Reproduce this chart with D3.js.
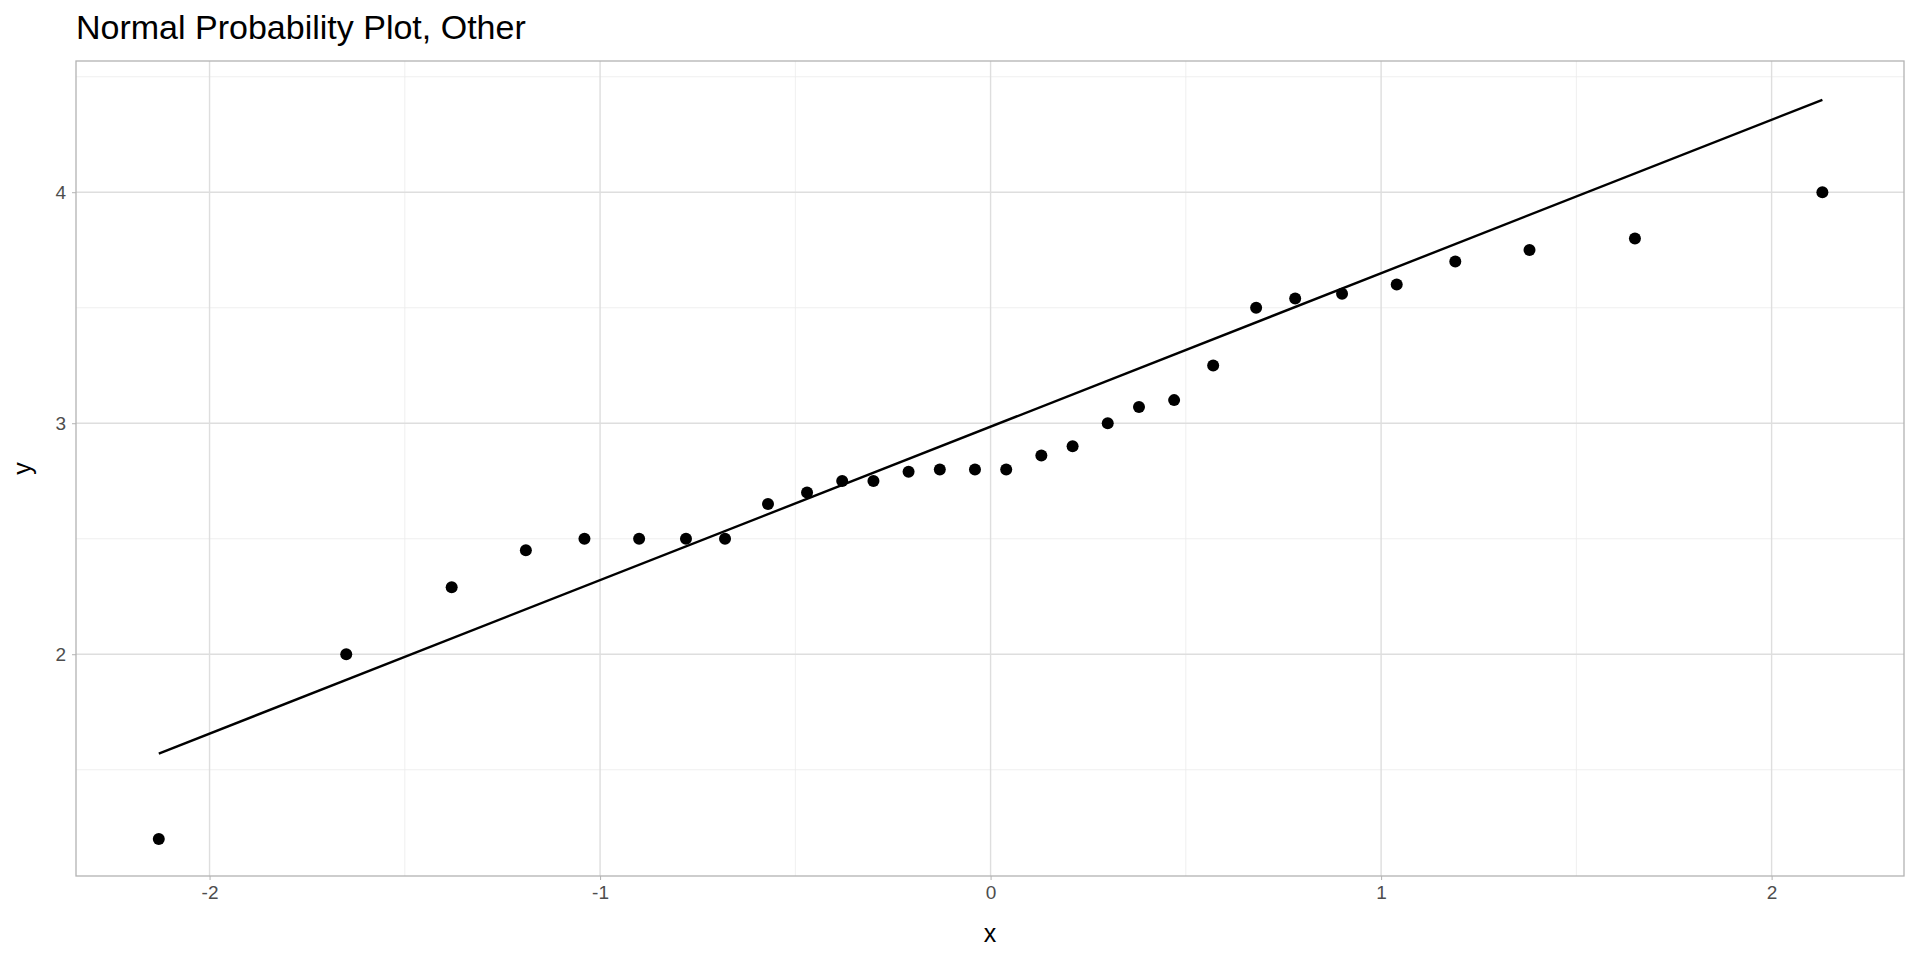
<!DOCTYPE html>
<html>
<head>
<meta charset="utf-8">
<script src="https://cdn.jsdelivr.net/npm/d3@7"></script>
<style>
  body { margin: 0; background: #fff; }
  text { font-family: "Liberation Sans", Arial, sans-serif; }
</style>
</head>
<body>
<svg id="chart" width="1920" height="960"></svg>
<script>
// theoretical quantiles and sample values
var qx = [-2.13, -1.65, -1.38, -1.19, -1.04, -0.90, -0.78, -0.68, -0.57, -0.47,
          -0.38, -0.30, -0.21, -0.13, -0.04, 0.04, 0.13, 0.21, 0.30, 0.38,
          0.47, 0.57, 0.68, 0.78, 0.90, 1.04, 1.19, 1.38, 1.65, 2.13];
var qy = [1.2, 2.0, 2.29, 2.45, 2.5, 2.5, 2.5, 2.5, 2.65, 2.7,
          2.75, 2.75, 2.79, 2.8, 2.8, 2.8, 2.86, 2.9, 3.0, 3.07,
          3.1, 3.25, 3.5, 3.54, 3.56, 3.6, 3.7, 3.75, 3.8, 4.0];
// reference line end points
var lineX = [-2.13, 2.13];
var lineY = [1.57, 4.40];
var xTicks = [-2, -1, 0, 1, 2];
var yTicks = [2, 3, 4];
var xMinor = [-1.5, -0.5, 0.5, 1.5];
var yMinor = [1.5, 2.5, 3.5, 4.5];

var svg = d3.select("#chart");
var m = { left: 76, right: 1904, top: 61, bottom: 876 };

var x = d3.scaleLinear().domain([-2.342, 2.339]).range([m.left, m.right]);
var y = d3.scaleLinear().domain([1.04, 4.568]).range([m.bottom, m.top]);

var grid = svg.append("g");
grid.selectAll(".xm").data(xMinor).enter().append("line")
  .attr("x1", d => x(d)).attr("x2", d => x(d)).attr("y1", m.top).attr("y2", m.bottom)
  .attr("stroke", "#ebebeb").attr("stroke-width", 0.8);
grid.selectAll(".ym").data(yMinor).enter().append("line")
  .attr("y1", d => y(d)).attr("y2", d => y(d)).attr("x1", m.left).attr("x2", m.right)
  .attr("stroke", "#ebebeb").attr("stroke-width", 0.8);
grid.selectAll(".xM").data(xTicks).enter().append("line")
  .attr("x1", d => x(d)).attr("x2", d => x(d)).attr("y1", m.top).attr("y2", m.bottom)
  .attr("stroke", "#dedede").attr("stroke-width", 1.4);
grid.selectAll(".yM").data(yTicks).enter().append("line")
  .attr("y1", d => y(d)).attr("y2", d => y(d)).attr("x1", m.left).attr("x2", m.right)
  .attr("stroke", "#dedede").attr("stroke-width", 1.4);

svg.append("rect").attr("x", m.left).attr("y", m.top)
  .attr("width", m.right - m.left).attr("height", m.bottom - m.top)
  .attr("fill", "none").attr("stroke", "#b3b3b3").attr("stroke-width", 1.3);

// axes
var fmt = d => String(d);
var xAxis = svg.append("g").attr("transform", "translate(0," + m.bottom + ")")
  .call(d3.axisBottom(x).tickValues(xTicks).tickFormat(fmt).tickSize(4).tickPadding(6));
var yAxis = svg.append("g").attr("transform", "translate(" + m.left + ",0)")
  .call(d3.axisLeft(y).tickValues(yTicks).tickFormat(fmt).tickSize(4).tickPadding(6));
[xAxis, yAxis].forEach(function (a) {
  a.select(".domain").remove();
  a.selectAll(".tick line").attr("stroke", "#b3b3b3");
  a.selectAll("text").attr("fill", "#4d4d4d").style("font-size", "19px");
});

// reference line
svg.append("path")
  .datum(d3.zip(lineX, lineY))
  .attr("d", d3.line().x(d => x(d[0])).y(d => y(d[1])))
  .attr("fill", "none").attr("stroke", "#000").attr("stroke-width", 2.4);

// points
svg.selectAll(".pt").data(d3.zip(qx, qy)).enter().append("circle")
  .attr("cx", d => x(d[0])).attr("cy", d => y(d[1])).attr("r", 6)
  .attr("fill", "#000");

svg.append("text").attr("x", 76).attr("y", 39)
  .style("font-size", "34px").attr("fill", "#000")
  .text("Normal Probability Plot, Other");
svg.append("text").attr("x", (m.left + m.right) / 2).attr("y", 942)
  .attr("text-anchor", "middle").style("font-size", "25px").text("x");
svg.append("text").attr("transform", "translate(31," + (m.top + m.bottom) / 2 + ") rotate(-90)")
  .attr("text-anchor", "middle").style("font-size", "25px").text("y");
</script>
</body>
</html>
